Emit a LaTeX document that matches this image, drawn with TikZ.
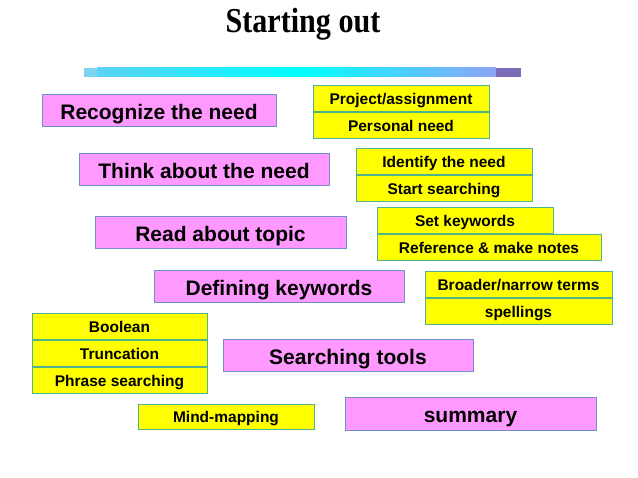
\documentclass[tikz,border=0pt]{standalone}
\usepackage{fontspec}
\setmainfont{Liberation Sans}
\newfontfamily\titlefont{Liberation Serif}
\definecolor{topicfill}{HTML}{FF99FF}
\definecolor{topicline}{HTML}{6F8FC8}
\definecolor{subfill}{HTML}{FFFF00}
\definecolor{subline}{HTML}{4DB38A}
\definecolor{barstart}{HTML}{7FD3EE}
\definecolor{barleft}{HTML}{5CD2F4}
\definecolor{barmid}{HTML}{00FFFF}
\definecolor{barright}{HTML}{8FA3F5}
\definecolor{barend}{HTML}{7B6BB8}
\tikzset{
  topicbox/.style={draw=topicline, fill=topicfill, line width=1pt, inner sep=0pt,
    minimum height=32, text height=17pt, text depth=0pt,
    font=\bfseries\fontsize{21}{24}\selectfont},
  subbox/.style={draw=subline, fill=subfill, line width=1pt, inner sep=0pt,
    minimum height=26, minimum width=176, text height=12pt, text depth=0pt,
    font=\bfseries\fontsize{15.5}{18}\selectfont}
}
\begin{document}
\begin{tikzpicture}[x=1pt,y=-1pt]
  \useasboundingbox (0,0) rectangle (638,478);

  \node[anchor=base, xscale=0.86, font=\titlefont\bfseries\fontsize{35}{40}\selectfont]
    (title) at (303,33) {Starting out};

  % Bar under the title
  \fill[barstart] (84,68) rectangle (97,77);
  \shade[left color=barleft, right color=barmid] (97,68) rectangle (300,77);
  \shade[left color=barmid, right color=barright] (300,68) rectangle (496,77);
  \fill[barend] (496,68) rectangle (521,77);

  % Steps
  \node[topicbox, minimum width=234] (recognize) at (159,111) {Recognize the need};
  \node[topicbox, minimum width=250] (think) at (204,170) {Think about the need};
  \node[topicbox, minimum width=251] (read) at (220.5,233) {Read about topic};
  \node[topicbox, minimum width=250] (defining) at (279,287) {Defining keywords};
  \node[topicbox, minimum width=250] (searching) at (348,356) {Searching tools};
  \node[topicbox, minimum width=251, minimum height=33] (summary) at (470.5,414.5) {summary};

  % Details
  \node[subbox, anchor=north] (project) at (401,85) {Project/assignment};
  \node[subbox, anchor=north] (personal) at (project.south) {Personal need};

  \node[subbox, anchor=north] (identify) at (444,148) {Identify the need};
  \node[subbox, anchor=north] (start) at (identify.south) {Start searching};

  \node[subbox, anchor=north] (setkw) at (465,207) {Set keywords};
  \node[subbox, anchor=north west, minimum width=224] (reference) at (setkw.south west) {Reference \& make notes};

  \node[subbox, anchor=north, minimum width=187] (broader) at (518.5,271) {Broader/narrow terms};
  \node[subbox, anchor=north, minimum width=187] (spellings) at (broader.south) {spellings};

  \node[subbox, anchor=north, minimum width=175] (boolean) at (119.5,313) {Boolean};
  \node[subbox, anchor=north, minimum width=175] (truncation) at (boolean.south) {Truncation};
  \node[subbox, anchor=north, minimum width=175] (phrase) at (truncation.south) {Phrase searching};

  \node[subbox, anchor=north, minimum height=25] (mind) at (226,404) {Mind-mapping};
\end{tikzpicture}
\end{document}
